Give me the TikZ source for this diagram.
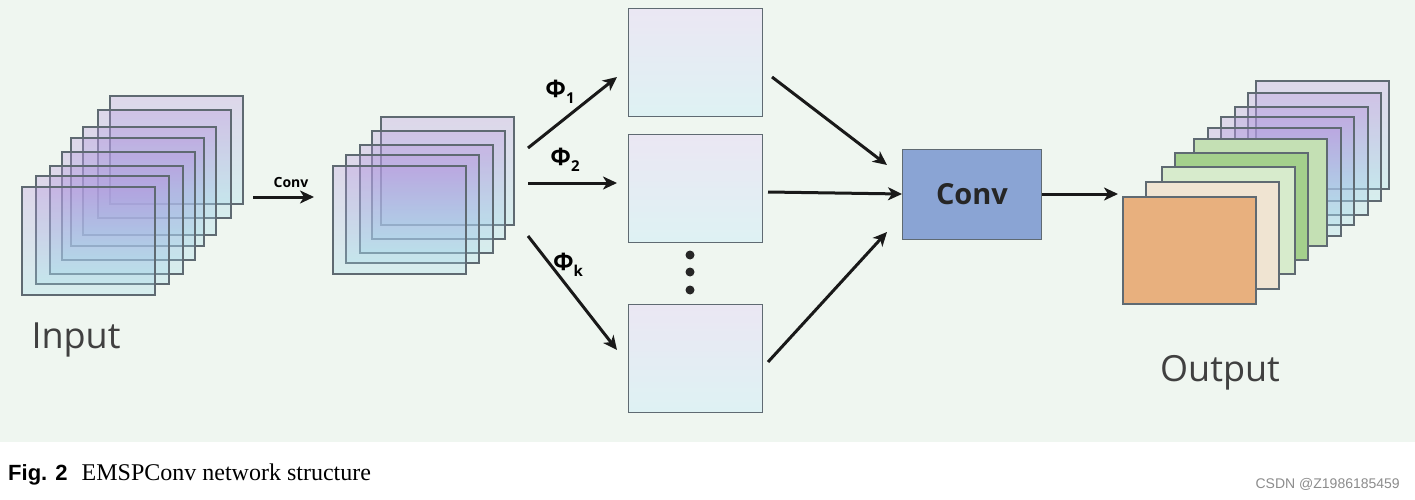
\documentclass[tikz,border=0pt]{standalone}
\usepackage{fontspec}
\setmainfont{Liberation Serif}
\setsansfont{Open Sans}
\newfontfamily\figfont{Liberation Sans}
\usetikzlibrary{arrows.meta}
\definecolor{bgc}{HTML}{EFF6F0}
\definecolor{edge}{HTML}{5F6A72}
\definecolor{cy}{HTML}{9EDDEA}
\definecolor{pu}{HTML}{B58FDD}
\definecolor{convc}{HTML}{8AA4D4}
\tikzset{
  fm/.style={draw=edge,line width=1.3pt,shading=axis,shading angle=-45,top color=pu,bottom color=cy,fill opacity=0.3},
  mid/.style={draw=edge,line width=1pt,shading=axis,shading angle=-45,top color=pu!30,bottom color=cy!45,fill opacity=0.6},
  solid/.style={draw=edge,line width=1.3pt},
  arr/.style={-{Stealth[length=14pt,width=13pt,inset=4pt]},line width=3pt,black!90},
  lbl/.style={font=\sffamily\bfseries\fontsize{24}{26}\selectfont}
}
\newcommand{\fmap}[3]{\path[#3] (#1,#2) rectangle ++(133,108);}
\begin{document}
\begin{tikzpicture}[x=1pt,y=-1pt]
\useasboundingbox (0,0) rectangle (1415,500);
\fill[white] (0,0) rectangle (1415,500);
\fill[bgc] (0,0) rectangle (1415,442);
% input stack
\foreach \x/\y in {110/96,98/110,83/127,71/138,62/152,50/166,36/176,22/187}{\fmap{\x}{\y}{fm}}
\node[font=\sffamily\fontsize{36}{38}\selectfont,text=black!75] (in) at (76,340) {Input};
% second stack
\foreach \x/\y in {381/117,372/131,360/145,346/155,333/166}{\fmap{\x}{\y}{fm}}
\coordinate (c1) at (253,197); \coordinate (c2) at (314,197);
\draw[arr] (c1) -- (c2);
\node[font=\sffamily\bfseries\fontsize{14}{16}\selectfont] (convl) at (291,182) {Conv};
% middle boxes
\node[mid,minimum width=134pt,minimum height=108pt,inner sep=0] (m1) at (695,63) {};
\node[mid,minimum width=134pt,minimum height=108pt,inner sep=0] (m2) at (695,188) {};
\node[mid,minimum width=134pt,minimum height=108pt,inner sep=0] (m3) at (695,358) {};
\foreach \y [count=\i] in {255,272,290}{\fill[black!85] (690,\y) circle (4.5pt) node (d\i) {};}
\coordinate (s1) at (528,148); \coordinate (t1) at (617,77);
\coordinate (s2) at (528,183); \coordinate (t2) at (617,183);
\coordinate (s3) at (528,236); \coordinate (t3) at (617,350);
\draw[arr] (s1) -- (t1); \draw[arr] (s2) -- (t2); \draw[arr] (s3) -- (t3);
\node[lbl] (p1) at (560,92) {Φ\raisebox{-6pt}{\fontsize{15}{16}\selectfont 1}};
\node[lbl] (p2) at (565,160) {Φ\raisebox{-6pt}{\fontsize{15}{16}\selectfont 2}};
\node[lbl] (p3) at (568,265) {Φ\raisebox{-6pt}{\fontsize{15}{16}\selectfont k}};
% conv box
\node[draw=edge,line width=1pt,fill=convc,minimum width=139pt,minimum height=90pt,inner sep=0,
  font=\sffamily\bfseries\fontsize{29}{30}\selectfont,text=black!85] (conv) at (972,194) {Conv};
\coordinate (a1) at (772,77); \coordinate (a2) at (768,192); \coordinate (a3) at (768,362);
\draw[arr] (a1) -- (887,165);
\draw[arr] (a2) -- (conv.west);
\draw[arr] (a3) -- (887,232);
\coordinate (o1) at (1118,194);
\draw[arr] (conv.east) -- (o1);
% output stack
\foreach \x/\y in {1256/81,1248/93,1235/107,1221/117,1208/128}{\fmap{\x}{\y}{fm}}
\definecolor{g1}{HTML}{C4E0B4}\definecolor{g2}{HTML}{A4D08C}\definecolor{g3}{HTML}{D7EBCC}
\definecolor{cr}{HTML}{F0E4D2}\definecolor{or}{HTML}{E8B07E}
\path[solid,fill=g1] (1194,139) rectangle ++(133,107);
\path[solid,fill=g2] (1175,153) rectangle ++(133,107);
\path[solid,fill=g3] (1162,167) rectangle ++(133,107);
\path[solid,fill=cr] (1146,182) rectangle ++(133,107);
\path[solid,fill=or] (1123,197) rectangle ++(133,107);
\node[font=\sffamily\fontsize{36}{38}\selectfont,text=black!75] (out) at (1220,373) {Output};
% caption
\node[anchor=west,inner sep=0] (cap) at (8,474) {{\figfont\bfseries\fontsize{22}{24}\selectfont Fig. 2}\hspace{14pt}{\fontsize{24}{26}\selectfont EMSPConv network structure}};
\node[anchor=east,inner sep=0,text=black!45,font=\figfont\fontsize{14}{16}\selectfont] (wm) at (1400,484) {CSDN @Z1986185459};
\end{tikzpicture}
\end{document}
